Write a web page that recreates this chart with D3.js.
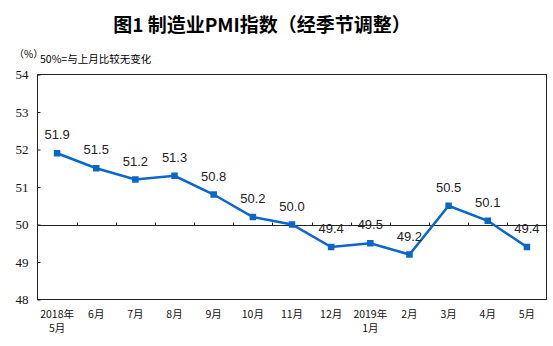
<!DOCTYPE html>
<html>
<head>
<meta charset="utf-8">
<script src="https://cdn.jsdelivr.net/npm/d3@7"></script>
<style>
  body { margin: 0; background: #fff; }
</style>
</head>
<body>
<script>
// data
var months = ["2018年|5月", "6月", "7月", "8月", "9月", "10月", "11月", "12月", "2019年|1月", "2月", "3月", "4月", "5月"];
var pmi = [51.9, 51.5, 51.2, 51.3, 50.8, 50.2, 50.0, 49.4, 49.5, 49.2, 50.5, 50.1, 49.4];
var yTicks = [48, 49, 50, 51, 52, 53, 54];

var w = 553, h = 346;
var plotLeft = 37.5, plotRight = 546.5, plotTop = 74.5, plotBottom = 299.5;

var svg = d3.select("body").append("svg")
    .attr("width", w)
    .attr("height", h);

var xScale = d3.scalePoint()
    .domain(months)
    .range([plotLeft, plotRight])
    .padding(0.5);
var step = xScale.step();

var yScale = d3.scaleLinear()
    .domain([48, 54])
    .range([plotBottom, plotTop]);

// title
svg.append("text")
   .attr("x", 262)
   .attr("y", 32)
   .attr("text-anchor", "middle")
   .style("font-family", "'Noto Sans CJK SC'")
   .style("font-weight", "bold")
   .style("font-size", "19px")
   .text("图1 制造业PMI指数（经季节调整）");

svg.append("text")
   .attr("x", 14)
   .attr("y", 58)
   .style("font-family", "'Noto Sans CJK SC'")
   .style("font-size", "10px")
   .text("（%）");
svg.append("text")
   .attr("x", 40)
   .attr("y", 63)
   .style("font-family", "'Noto Sans CJK SC'")
   .style("font-size", "10.5px")
   .text("50%=与上月比较无变化");

// frame
svg.append("rect")
   .attr("x", plotLeft)
   .attr("y", plotTop)
   .attr("width", plotRight - plotLeft)
   .attr("height", plotBottom - plotTop)
   .attr("fill", "none")
   .attr("stroke", "#222")
   .attr("stroke-width", 1);

// y axis (ticks point inward)
var y_axis = d3.axisLeft(yScale)
    .tickValues(yTicks)
    .tickSize(-3)
    .tickPadding(9)
    .tickFormat(d3.format("d"));
var gy = svg.append("g")
   .attr("transform", "translate(" + plotLeft + ",0)")
   .call(y_axis);
gy.select(".domain").remove();
gy.selectAll("line").attr("stroke", "#222");
gy.selectAll("text")
  .style("font-family", "'Liberation Serif'")
  .style("font-size", "13px")
  .attr("fill", "#111");

// 50 reference line with category ticks pointing up
var y50 = Math.round(yScale(50)) + 0.5;
svg.append("line")
   .attr("x1", plotLeft).attr("x2", plotRight)
   .attr("y1", y50).attr("y2", y50)
   .attr("stroke", "#222");
svg.selectAll(".ctick")
   .data(months.slice(0, -1))
   .enter()
   .append("line")
   .attr("class", "ctick")
   .attr("x1", function(d){ return Math.round(xScale(d) + step / 2) + 0.5; })
   .attr("x2", function(d){ return Math.round(xScale(d) + step / 2) + 0.5; })
   .attr("y1", y50)
   .attr("y2", y50 - 3)
   .attr("stroke", "#222");

// x labels, one text per line
months.forEach(function(d){
  d.split("|").forEach(function(p, i){
    svg.append("text")
       .attr("class", "xlab")
       .attr("x", xScale(d))
       .attr("y", 318 + i * 14)
       .attr("text-anchor", "middle")
       .style("font-family", "'Noto Sans CJK SC'")
       .style("font-size", "10.5px")
       .attr("fill", "#111")
       .text(p);
  });
});

// line
var line = d3.line()
    .x(function(d, i){ return xScale(months[i]); })
    .y(function(d){ return yScale(d); });
svg.append("path")
   .datum(pmi)
   .attr("d", line)
   .attr("fill", "none")
   .attr("stroke", "#0A66C8")
   .attr("stroke-width", 2.5);

svg.selectAll(".pt")
   .data(pmi)
   .enter()
   .append("rect")
   .attr("class", "pt")
   .attr("x", function(d, i){ return xScale(months[i]) - 3.25; })
   .attr("y", function(d){ return yScale(d) - 3.25; })
   .attr("width", 6.5)
   .attr("height", 6.5)
   .attr("fill", "#0A66C8");

// value labels
svg.selectAll(".vl")
   .data(pmi)
   .enter()
   .append("text")
   .attr("class", "vl")
   .attr("x", function(d, i){ return xScale(months[i]); })
   .attr("y", function(d){ return yScale(d) - 14; })
   .attr("text-anchor", "middle")
   .style("font-family", "'Liberation Sans'")
   .style("font-size", "13px")
   .attr("fill", "#222")
   .text(function(d){ return d.toFixed(1); });
</script>
</body>
</html>
